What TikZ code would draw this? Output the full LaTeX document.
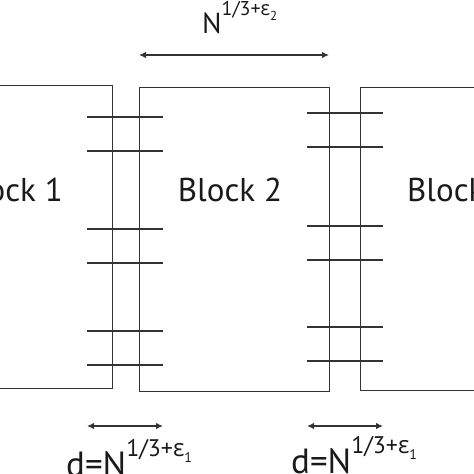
\documentclass[tikz,border=0pt]{standalone}
\usepackage{fontspec}
\setmainfont{PT Sans}
\newfontfamily\gk{Open Sans}
\usetikzlibrary{arrows.meta}
\definecolor{linec}{HTML}{333333}
\definecolor{txtc}{HTML}{1A1A1A}
\begin{document}
\begin{tikzpicture}[x=1pt,y=-1pt,
  blk/.style={draw=linec, line width=1.2pt, rectangle, inner sep=0pt, anchor=north west},
  tickline/.style={draw=linec, line width=1.2pt},
  dimarrow/.style={draw=linec, line width=1.2pt, {Latex[length=7pt,width=6.5pt]}-{Latex[length=7pt,width=6.5pt]}},
  blabel/.style={text=txtc, inner sep=0pt, font=\fontsize{33}{34}\selectfont},
  dlabel/.style={text=txtc, inner sep=0pt, anchor=base west}
]
\useasboundingbox (0,0) rectangle (474,474);
\clip (0,0) rectangle (474,474);

% blocks
\node[blk, minimum width=212pt, minimum height=303pt] (b1) at (-100,85) {};
\node[blk, minimum width=190pt, minimum height=304pt] (b2) at (139,87) {};
\node[blk, minimum width=200pt, minimum height=303pt] (b3) at (360,87) {};

% block labels
\node[blabel, anchor=base east] (t1) at (63,201) {Block 1};
\node[blabel, anchor=base] (t2) at (230,201) {Block 2};
\node[blabel, anchor=base west] (t3) at (407,201) {Block 3};

% ticks between block 1 and 2
\foreach \yy in {117,151,229,263,331,365}
  \draw[tickline] (87,\yy) -- (163,\yy);
% ticks between block 2 and 3
\foreach \yy in {113,147,226,260,327,361}
  \draw[tickline] (307,\yy) -- (383,\yy);

% top dimension
\coordinate (ta) at (139,55);
\coordinate (tb) at (329,55);
\draw[dimarrow] (ta) -- (tb);
\node[dlabel] (tl) at (202,33) {\fontsize{29}{30}\selectfont N\raisebox{18pt}{\fontsize{20}{20}\selectfont 1/3+{\gk ε}\raisebox{-5pt}{\fontsize{13}{13}\selectfont 2}}};

% bottom dimensions
\coordinate (la) at (87,426);
\coordinate (lb) at (163,426);
\draw[dimarrow] (la) -- (lb);
\coordinate (ra) at (307,426);
\coordinate (rb) at (383,426);
\draw[dimarrow] (ra) -- (rb);
\node[dlabel] (ll) at (66,476) {\fontsize{35}{36}\selectfont d=N\raisebox{20pt}{\fontsize{24}{24}\selectfont 1/3+{\gk ε}\raisebox{-6pt}{\fontsize{14}{14}\selectfont 1}}};
\node[dlabel] (rl) at (291,473) {\fontsize{35}{36}\selectfont d=N\raisebox{20pt}{\fontsize{24}{24}\selectfont 1/3+{\gk ε}\raisebox{-6pt}{\fontsize{14}{14}\selectfont 1}}};
\end{tikzpicture}
\end{document}
